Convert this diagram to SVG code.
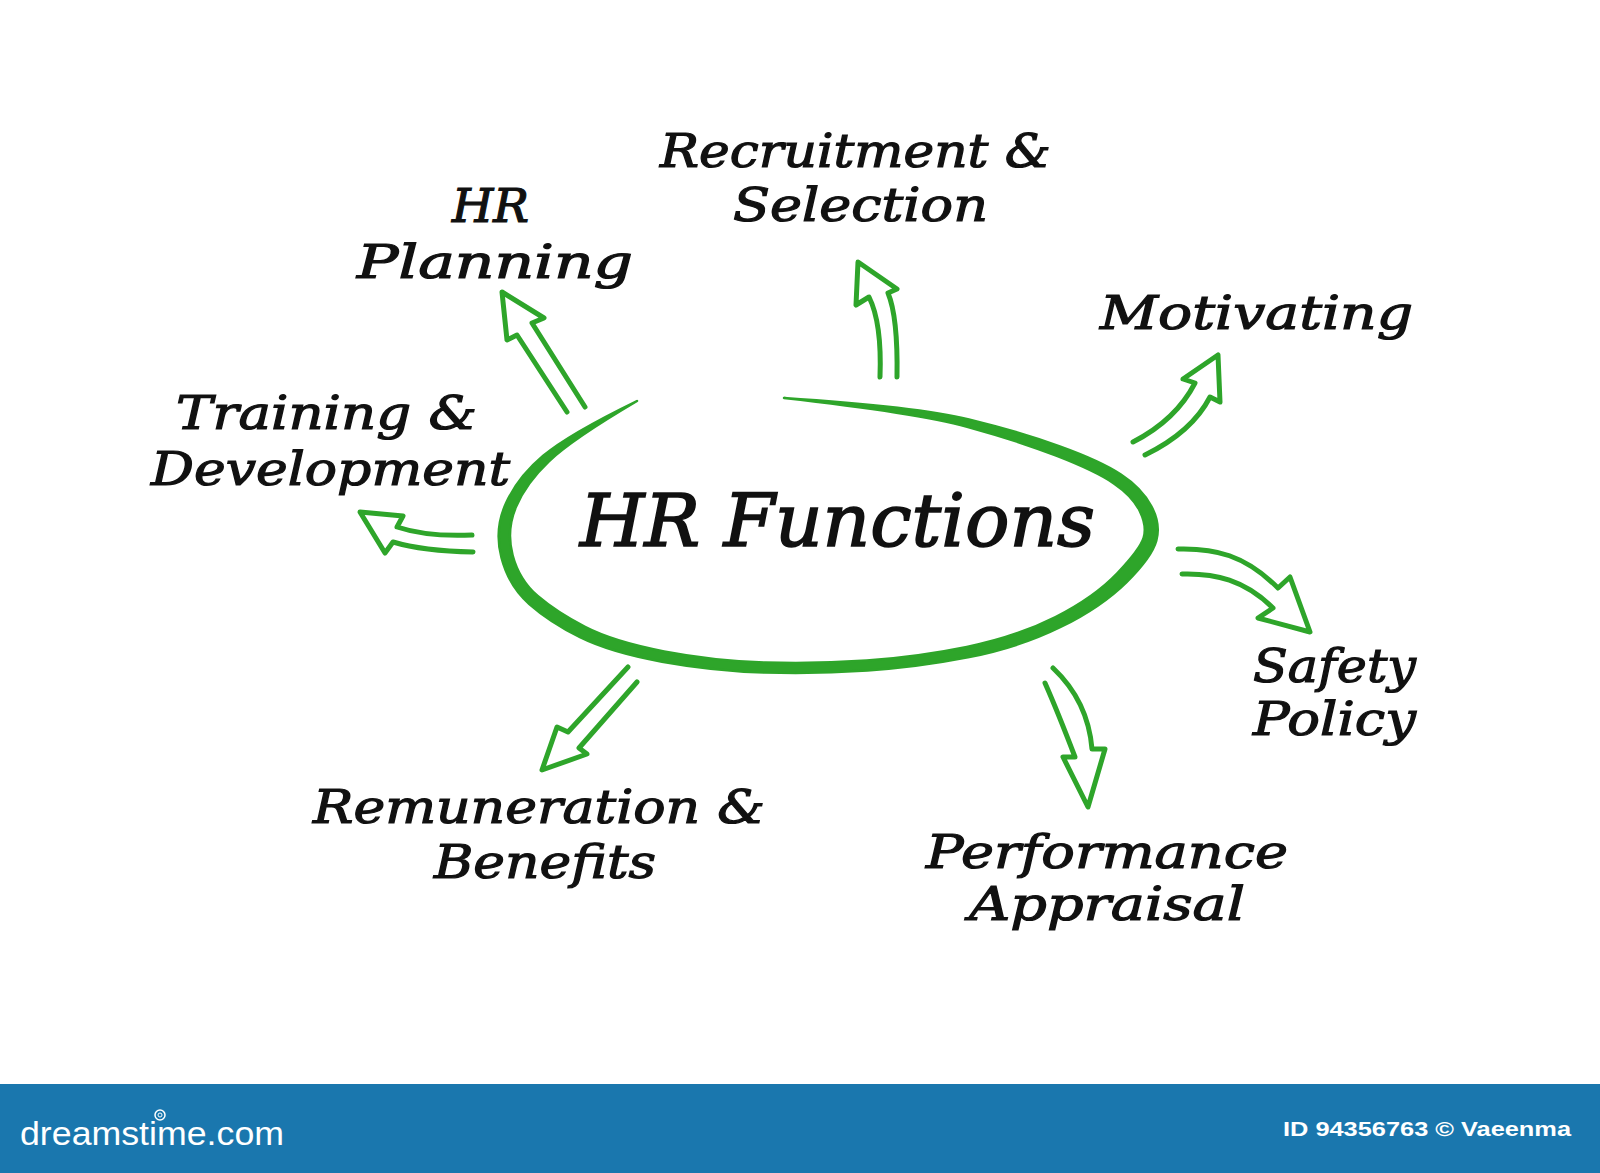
<svg xmlns="http://www.w3.org/2000/svg" width="1600" height="1173" viewBox="0 0 1600 1173">
<defs>
<style>
.lbl{font-family:"DejaVu Serif","Liberation Serif",serif;font-style:italic;font-size:46px;fill:#111;stroke:#111;stroke-width:1.2}
.title{font-family:"DejaVu Serif","Liberation Serif",serif;font-style:italic;font-size:72px;fill:#111;stroke:#111;stroke-width:1.6}
.arr{fill:none;stroke:#2ea52a;stroke-width:5;stroke-linecap:round;stroke-linejoin:round}
.foot{font-family:"Liberation Sans","DejaVu Sans",sans-serif;fill:#fff}
</style>
</defs>
<rect width="1600" height="1173" fill="#fff"/>

<g id="hr-functions">
<path fill="#2ea52a" stroke="#2ea52a" stroke-width="2.5" stroke-linejoin="round" d="M637,401 Q568.3,434.5 543.2,455.8 Q518,477 506,503.3 Q494,529.5 501.5,557.8 Q508.9,586.1 529.3,604 Q549.7,622 580,637.2 Q610.4,652.3 662,661.7 Q713.5,671 764.8,672.5 Q816,674 867.4,670.5 Q918.7,667 969.2,657.1 Q1019.7,647.2 1060.6,627 Q1101.4,606.9 1126.6,582 Q1151.7,557.1 1156.3,540.6 Q1160.9,524 1151.2,506 Q1141.4,487.9 1120.9,474.5 Q1100.3,461 1059.8,446.4 Q1019.3,431.7 968.9,419.4 Q918.5,407 784,398 Q917.5,413 967.1,426.7 Q1016.7,440.3 1056.2,455.7 Q1095.7,471 1114.2,483.6 Q1132.6,496.1 1139.9,511.1 Q1147.1,526 1143.7,537.5 Q1140.3,548.9 1117.5,573 Q1094.6,597.1 1055.5,617 Q1016.3,636.8 966.8,646.9 Q917.3,657 866.7,660.5 Q816,664 765.3,662.5 Q714.5,661 664.1,651.4 Q613.6,641.7 585,626.9 Q556.3,612 537.7,596 Q519.1,579.9 512.6,555.2 Q506,530.5 516,506.8 Q526,483 548.9,461.3 Q571.7,439.5 637,401 Z"/>
<text class="title" x="580" y="546" textLength="515" lengthAdjust="spacingAndGlyphs">HR Functions</text>
</g>

<g id="connectors">
<path class="arr" d="M567,412 L517,335 L507,340 L502,292 L544,318 L532,323 L585,407"/>
<path class="arr" d="M472,535 Q427,537 397,527 L403,516 L360,512 L385,553 L393,542 Q423,551 473,552"/>
<path class="arr" d="M880,377 Q882,323 869,297 L856,305 L858,262 L897,289 L888,293 Q898,317 897,377"/>
<path class="arr" d="M1133,442 Q1176,420 1195,383 L1183,379 L1218,355 L1220,402 L1210,397 Q1192,432 1145,455"/>
<path class="arr" d="M1178,549 C1215,548 1245,555 1278,588 L1290,577 L1310,632 L1258,618 L1273,608 C1245,580 1215,573 1182,574"/>
<path class="arr" d="M628,667 L568,732 L557,727 L542,770 L587,754 L579,748 L637,682"/>
<path class="arr" d="M1053,668 Q1088,701 1092,749 L1105,749 L1088,807 L1063,757 L1075,757 Q1057,710 1045,683"/>
</g>

<g id="hr-planning">
<text class="lbl" x="452" y="222" textLength="77" lengthAdjust="spacingAndGlyphs">HR</text>
<text class="lbl" x="357" y="278" textLength="276" lengthAdjust="spacingAndGlyphs">Planning</text>
</g>
<g id="recruitment-selection">
<text class="lbl" x="660" y="167" textLength="391" lengthAdjust="spacingAndGlyphs">Recruitment &amp;</text>
<text class="lbl" x="733" y="221" textLength="255" lengthAdjust="spacingAndGlyphs">Selection</text>
</g>
<g id="motivating">
<text class="lbl" x="1100" y="329" textLength="313" lengthAdjust="spacingAndGlyphs">Motivating</text>
</g>
<g id="training-development">
<text class="lbl" x="176" y="429" textLength="301" lengthAdjust="spacingAndGlyphs">Training &amp;</text>
<text class="lbl" x="151" y="485" textLength="359" lengthAdjust="spacingAndGlyphs">Development</text>
</g>
<g id="safety-policy">
<text class="lbl" x="1253" y="682" textLength="163" lengthAdjust="spacingAndGlyphs">Safety</text>
<text class="lbl" x="1253" y="735" textLength="163" lengthAdjust="spacingAndGlyphs">Policy</text>
</g>
<g id="remuneration-benefits">
<text class="lbl" x="313" y="823" textLength="452" lengthAdjust="spacingAndGlyphs">Remuneration &amp;</text>
<text class="lbl" x="434" y="878" textLength="222" lengthAdjust="spacingAndGlyphs">Benefits</text>
</g>
<g id="performance-appraisal">
<text class="lbl" x="926" y="868" textLength="362" lengthAdjust="spacingAndGlyphs">Performance</text>
<text class="lbl" x="969" y="920" textLength="276" lengthAdjust="spacingAndGlyphs">Appraisal</text>
</g>

<g id="footer">
<rect x="0" y="1084" width="1600" height="89" fill="#1a77ae"/>
<text class="foot" x="20" y="1145" font-size="33" textLength="264" lengthAdjust="spacingAndGlyphs">dreamstime.com</text>
<circle cx="160" cy="1115" r="5" fill="none" stroke="#fff" stroke-width="1.5"/>
<circle cx="160" cy="1115" r="2" fill="none" stroke="#fff" stroke-width="1"/>
<text class="foot" x="1571" y="1136" font-size="21" font-weight="bold" text-anchor="end" textLength="288" lengthAdjust="spacingAndGlyphs">ID 94356763 © Vaeenma</text>
</g>
</svg>
